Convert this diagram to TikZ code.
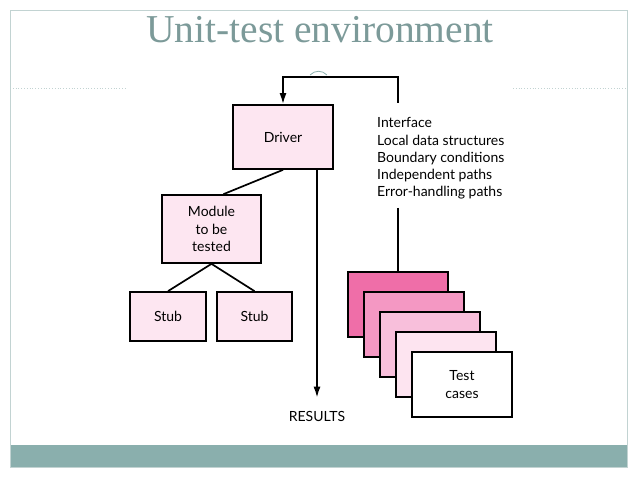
\documentclass[tikz,border=0pt]{standalone}
\usepackage{fontspec}
\setmainfont{Liberation Serif}
\newfontfamily\diagfont{Lato}
\usetikzlibrary{arrows.meta}
\definecolor{frame}{HTML}{C2D3D2}
\definecolor{teal}{HTML}{8AAFAD}
\definecolor{titlegray}{HTML}{7C9A99}
\definecolor{boxpink}{HTML}{FDE6F1}
\definecolor{cardA}{HTML}{EF6EA8}
\definecolor{cardB}{HTML}{F498C3}
\definecolor{cardC}{HTML}{F8BFDB}
\definecolor{cardD}{HTML}{FDE4F0}
\tikzstyle{box} = [draw, line width=1.7pt, inner sep=0pt, align=center, font=\diagfont\fontsize{14}{17.25}\selectfont]
\tikzstyle{arrow} = [line width=1.7pt, -{Latex[length=11pt,width=7pt]}]
\tikzstyle{link} = [line width=1.7pt]
\tikzstyle{plain} = [inner sep=0pt, align=left, font=\diagfont\fontsize{14}{17.25}\selectfont]

\begin{document}
\begin{tikzpicture}[x=1pt,y=-1pt]
        \useasboundingbox (0,0) rectangle (638,478);
        % slide frame
        \fill[teal] (10,445) rectangle (627,467);
        \draw[frame, line width=0.8pt] (10,10) rectangle (627,467);
        \draw[frame, dotted, line width=0.8pt] (10,88) -- (125,88);
        \draw[frame, dotted, line width=0.8pt] (513,88) -- (627,88);
        \draw[teal, line width=0.8pt] (310,75) .. controls (315,70) and (322,70) .. (327,75);
        \node[titlegray, font=\fontsize{39.5}{44}\selectfont, anchor=base] (title) at (320,43) {Unit-test environment};

        % module under test
        \node[box, fill=boxpink, minimum width=100pt, minimum height=64pt] (driver) at (283,137) {Driver};
        \node[box, fill=boxpink, minimum width=99pt, minimum height=68pt] (module) at (211.5,229) {Module\\to be\\tested};
        \node[box, fill=boxpink, minimum width=76pt, minimum height=49pt] (stubA) at (168,316.5) {Stub};
        \node[box, fill=boxpink, minimum width=75pt, minimum height=49pt] (stubB) at (254.5,316.5) {Stub};
        \draw[link] (driver.south) -- ([xshift=12pt]module.north);
        \draw[link] (module.south) -- (stubA.north);
        \draw[link] (module.south) -- (stubB.north);

        % results
        \node[plain, inner ysep=13pt] (results) at (317,416) {RESULTS};
        \draw[arrow] (results.north |- driver.south) -- (results.north);

        % test cases
        \foreach \i/\col in {1/cardA, 2/cardB, 3/cardC, 4/cardD}
            \node[box, fill=\col, minimum width=100pt, minimum height=65pt] (card\i) at (382+16*\i, 284.5+20*\i) {};
        \node[box, fill=white, minimum width=100pt, minimum height=65pt] (card5) at (462,384.5) {Test\\cases};

        \node[plain, anchor=north west] (checks) at (377,117.5) {Interface\\Local data structures\\Boundary conditions\\Independent paths\\Error-handling paths};
        \coordinate (fbstart) at (398,103);
        \coordinate (tcstart) at (398,208);
        \draw[arrow] (fbstart) -- ++(0,-26) -| (driver.north);
        \draw[link] (tcstart) -- (card1.north);
        \end{tikzpicture}
\end{document}
